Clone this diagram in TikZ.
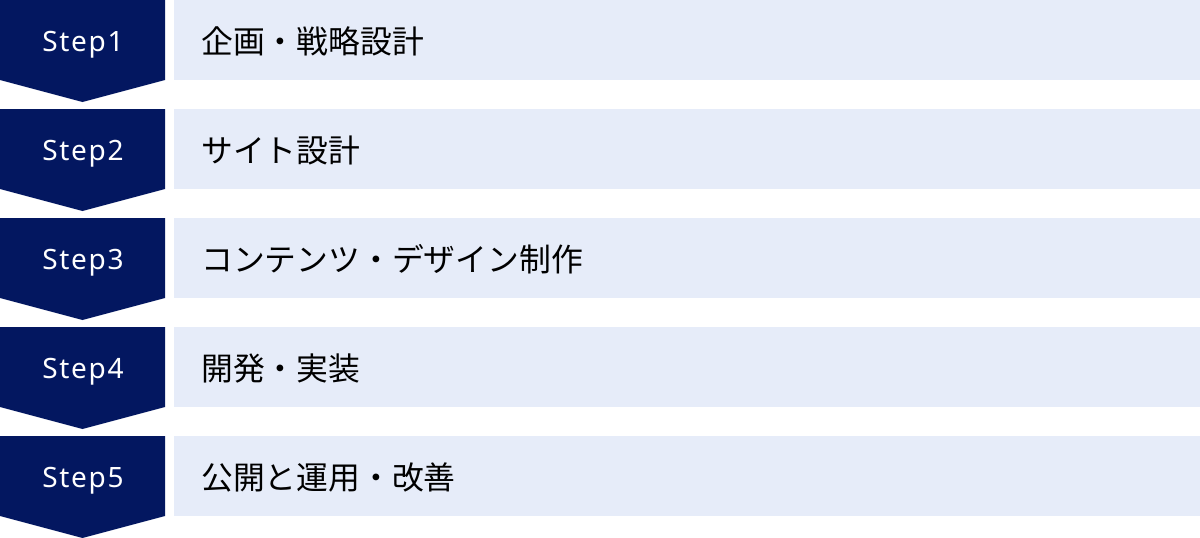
\documentclass[tikz,border=0pt]{standalone}
\usepackage{fontspec}
\setmainfont{Noto Sans}
\newfontfamily\stepfont[LetterSpace=6]{Noto Sans}
\newfontfamily\jpfont{Noto Sans CJK JP}
\definecolor{stepnavy}{RGB}{3,23,96}
\definecolor{rowblue}{RGB}{230,236,249}
\tikzset{
  steplabel/.style={text=white,anchor=base,inner sep=0pt,font=\stepfont\fontsize{28}{28}\selectfont},
  rowlabel/.style={text=black,anchor=base west,inner sep=0pt,font=\jpfont\fontsize{31.8}{31.8}\selectfont},
}

\begin{document}
\begin{tikzpicture}[x=1pt,y=-1pt]
  \useasboundingbox (0,0) rectangle (1200,538);

  \fill[stepnavy] (0,0) -- (165,0) -- (165,80) -- (82.5,102) -- (0,80) -- cycle;
  \fill[stepnavy] (0,109) -- (165,109) -- (165,189) -- (82.5,211) -- (0,189) -- cycle;
  \fill[stepnavy] (0,218) -- (165,218) -- (165,298) -- (82.5,320) -- (0,298) -- cycle;
  \fill[stepnavy] (0,327) -- (165,327) -- (165,407) -- (82.5,429) -- (0,407) -- cycle;
  \fill[stepnavy] (0,436) -- (165,436) -- (165,516) -- (82.5,538) -- (0,516) -- cycle;

  \fill[rowblue] (174,0) rectangle (1200,80);
  \fill[rowblue] (174,109) rectangle (1200,189);
  \fill[rowblue] (174,218) rectangle (1200,298);
  \fill[rowblue] (174,327) rectangle (1200,407);
  \fill[rowblue] (174,436) rectangle (1200,516);

  \draw (83,51.7) node[steplabel] (step1) {Step1};
  \draw (83,160.7) node[steplabel] (step2) {Step2};
  \draw (83,269.7) node[steplabel] (step3) {Step3};
  \draw (83,378.7) node[steplabel] (step4) {Step4};
  \draw (83,487.7) node[steplabel] (step5) {Step5};

  \draw (201,53) node[rowlabel] (plan) {企画・戦略設計};
  \draw (201,162) node[rowlabel] (site) {サイト設計};
  \draw (201,271) node[rowlabel] (design) {コンテンツ・デザイン制作};
  \draw (201,380) node[rowlabel] (build) {開発・実装};
  \draw (201,489) node[rowlabel] (launch) {公開と運用・改善};
\end{tikzpicture}
\end{document}
